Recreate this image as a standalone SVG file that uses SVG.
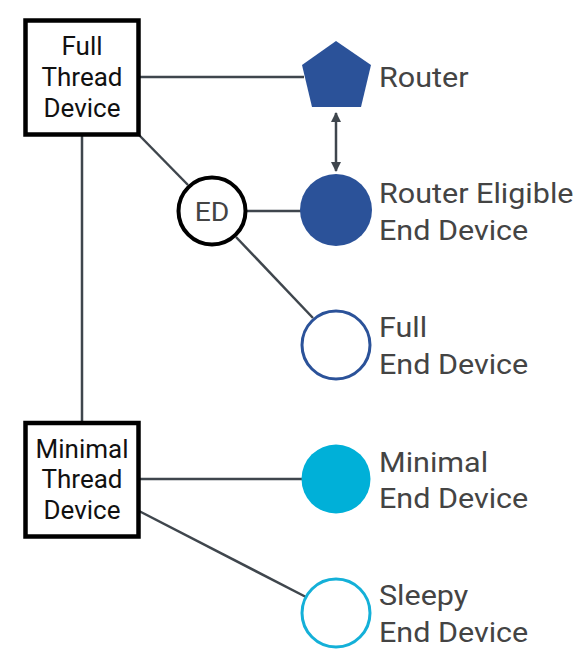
<svg xmlns="http://www.w3.org/2000/svg" width="586" height="667" viewBox="0 0 586 667">
<style>
.box{fill:#fff;stroke:#000;stroke-width:4.5;}
.bt{font-family:Roboto,"Liberation Sans",sans-serif;font-size:25px;fill:#111;text-anchor:middle;}
.lbl{font-family:Roboto,"Liberation Sans",sans-serif;font-size:28px;fill:#444;}
.ln{stroke:#3f464d;stroke-width:2.5;fill:none;}
.blue{fill:#2b5299;}
.cyan{fill:#00b0d8;}
</style>
<defs>
<marker id="ah" viewBox="0 0 10 10" refX="9" refY="5" markerWidth="4" markerHeight="4" orient="auto-start-reverse">
<path d="M0,0 L10,5 L0,10 z" fill="#3f464d"/>
</marker>
</defs>
<g id="connectors">
<line class="ln" x1="138" y1="77" x2="304" y2="77"/>
<line class="ln" x1="82" y1="134" x2="82" y2="422"/>
<line class="ln" x1="139" y1="135" x2="188" y2="185"/>
<line class="ln" x1="246" y1="211" x2="302" y2="211"/>
<line class="ln" x1="236" y1="237" x2="313" y2="318"/>
<line class="ln" x1="138" y1="479" x2="302" y2="479"/>
<line class="ln" x1="139" y1="511" x2="306" y2="597"/>
<line class="ln" x1="336" y1="113" x2="336" y2="171" marker-start="url(#ah)" marker-end="url(#ah)"/>
</g>
<g id="ftd">
<rect class="box" x="25.5" y="20.5" width="113" height="114"/>
<g transform="translate(82,0) scale(1.04,1)">
<text class="bt" x="0" y="55">Full</text>
<text class="bt" x="0" y="86">Thread</text>
<text class="bt" x="0" y="117">Device</text>
</g>
</g>
<g id="mtd">
<rect class="box" x="25.5" y="423" width="113" height="113.5"/>
<g transform="translate(82,0) scale(1.04,1)">
<text class="bt" x="0" y="458">Minimal</text>
<text class="bt" x="0" y="488">Thread</text>
<text class="bt" x="0" y="519">Device</text>
</g>
</g>
<g id="ed">
<circle cx="212" cy="211" r="33.5" fill="#fff" stroke="#000" stroke-width="4"/>
<text transform="translate(212,0) scale(1.09,1)" x="0" y="221" font-family="Roboto,'Liberation Sans',sans-serif" font-size="26" fill="#444" text-anchor="middle">ED</text>
</g>
<g id="router">
<polygon class="blue" points="336,41 371,65 361,107 312,107 302,65"/>
<text class="lbl" transform="translate(379,0) scale(1.09,1)" x="0" y="87">Router</text>
</g>
<g id="reed">
<circle class="blue" cx="336" cy="210" r="36"/>
<g transform="translate(379,0) scale(1.09,1)">
<text class="lbl" x="0" y="203">Router Eligible</text>
<text class="lbl" x="0" y="240">End Device</text>
</g>
</g>
<g id="fed">
<circle cx="336" cy="345" r="34" fill="#fff" stroke="#2b5299" stroke-width="3"/>
<g transform="translate(379,0) scale(1.09,1)">
<text class="lbl" x="0" y="337">Full</text>
<text class="lbl" x="0" y="374">End Device</text>
</g>
</g>
<g id="med">
<circle class="cyan" cx="336" cy="479" r="34.5"/>
<g transform="translate(379,0) scale(1.09,1)">
<text class="lbl" x="0" y="472">Minimal</text>
<text class="lbl" x="0" y="508">End Device</text>
</g>
</g>
<g id="sed">
<circle cx="336" cy="613" r="34" fill="#fff" stroke="#14b0d8" stroke-width="3"/>
<g transform="translate(379,0) scale(1.09,1)">
<text class="lbl" x="0" y="605">Sleepy</text>
<text class="lbl" x="0" y="642">End Device</text>
</g>
</g>
</svg>
